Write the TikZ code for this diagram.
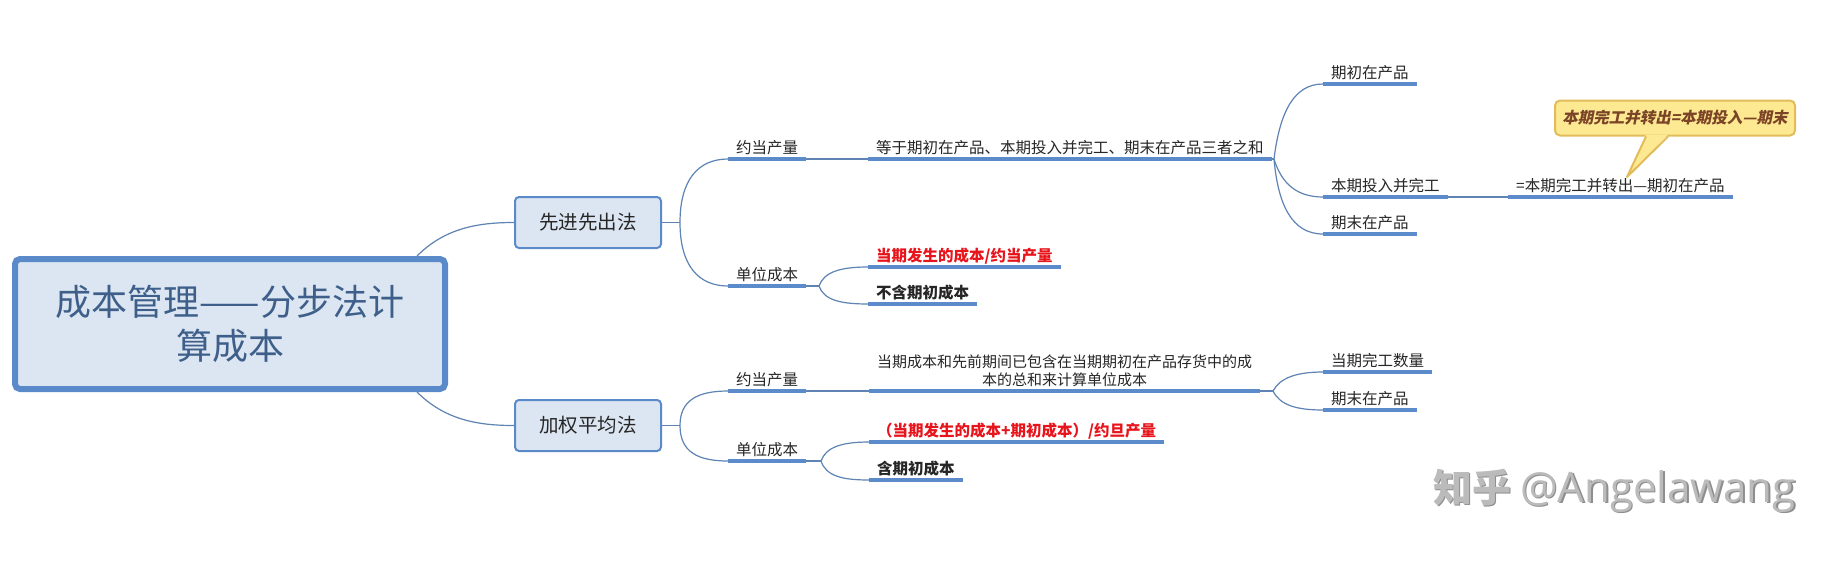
\documentclass[tikz,border=0pt]{standalone}
\usepackage{fontspec}
\setmainfont{Noto Sans CJK SC}
\newfontfamily\calloutfont{Noto Sans CJK SC}[FakeSlant=0.2]
\newfontfamily\wmfont{Open Sans}
\usetikzlibrary{positioning}
\definecolor{rootfill}{HTML}{DCE6F2}
\definecolor{boxborder}{HTML}{5A8AC9}
\definecolor{ulcol}{HTML}{5B8BCB}
\definecolor{conncol}{HTML}{5F83B3}
\definecolor{roottext}{HTML}{3E5F8A}
\definecolor{leaftext}{HTML}{262626}
\definecolor{redtext}{HTML}{E8141B}
\definecolor{callfill}{HTML}{FCE992}
\definecolor{callborder}{HTML}{E2BC5A}
\definecolor{calltext}{HTML}{7B4426}
\definecolor{wmcol}{HTML}{BBBBBB}
\definecolor{wmshadow}{HTML}{8E8E8E}
\tikzset{
  rootbox/.style={draw=boxborder, line width=6pt, fill=rootfill, rounded corners=5pt,
    minimum width=430pt, minimum height=130pt, align=center, text=roottext,
    font=\fontsize{36}{44}\selectfont, inner sep=0pt},
  midbox/.style={draw=boxborder, line width=2pt, fill=rootfill, rounded corners=4pt,
    minimum width=146pt, minimum height=51pt, text=leaftext,
    font=\fontsize{19.5}{22}\selectfont, inner sep=0pt},
  leaf/.style={anchor=south west, inner xsep=8pt, inner ysep=3pt, text depth=2pt,
    text=leaftext, font=\fontsize{15.5}{18}\selectfont},
  leafred/.style={leaf, text=redtext, font=\fontsize{15.5}{18}\selectfont\bfseries},
  leafbold/.style={leaf, font=\fontsize{15.5}{18}\selectfont\bfseries},
  ul/.style={draw=ulcol, line width=4pt},
  conn/.style={draw=conncol, line width=1.2pt},
}
\begin{document}
\begin{tikzpicture}[x=1pt, y=-1pt]
\useasboundingbox (0,0) rectangle (1833,571);
\fill[white] (0,0) rectangle (1833,571);

% root and main branches
\node[rootbox] (root) at (230,324) {成本管理——分步法计\\算成本};
\node[midbox] (fifo) at (588,222.5) {先进先出法};
\node[midbox] (wavg) at (588,425.5) {加权平均法};

\coordinate (rtop) at (417,256);
\coordinate (rbot) at (417,392);
\draw[conn] (rtop) .. controls (445,228) and (478,222.5) .. (fifo.west);
\draw[conn] (rbot) .. controls (445,420) and (478,425.5) .. (wavg.west);

% FIFO leaves
\node[leaf] (fa) at (728,159) {约当产量};
\node[leaf] (fa2) at (868,159) {等于期初在产品、本期投入并完工、期末在产品三者之和};
\node[leaf] (fa3) at (1323,84) {期初在产品};
\node[leaf] (fa4) at (1323,197) {本期投入并完工};
\node[leaf] (fa5) at (1508,197) {=本期完工并转出—期初在产品};
\node[leaf] (fa6) at (1323,234) {期末在产品};
\node[leaf] (fb) at (728,286) {单位成本};
\node[leafred] (fb1) at (868,267) {当期发生的成本/约当产量};
\node[leafbold] (fb2) at (868,304) {不含期初成本};

% weighted average leaves
\node[leaf] (wa) at (728,391) {约当产量};
\node[leaf, align=center, font=\fontsize{15}{18.5}\selectfont] (wa2) at (869,391) {当期成本和先前期间已包含在当期期初在产品存货中的成\\本的总和来计算单位成本};
\node[leaf] (wa3) at (1323,372) {当期完工数量};
\node[leaf] (wa4) at (1323,410) {期末在产品};
\node[leaf] (wb) at (728,461) {单位成本};
\node[leafred] (wb1) at (869,442) {（当期发生的成本+期初成本）/约旦产量};
\node[leafbold] (wb2) at (869,480) {含期初成本};

% underlines
\foreach \n in {fa,fa2,fa3,fa4,fa5,fa6,fb,fb1,fb2,wa,wa2,wa3,wa4,wb,wb1,wb2}
  \draw[ul] (\n.south west) -- (\n.south east);

% junction coordinates
\coordinate (jf) at (680,222.5);
\coordinate (jw) at (680,425.5);
\coordinate (jfa) at (1274,159);
\coordinate (jfb) at (819,286);
\coordinate (jwa) at (1273,391);
\coordinate (jwb) at (821,461);

% FIFO connectors
\draw[conn] (fifo.east) -- (jf);
\draw[conn] (jf) .. controls (680,180) and (698,159) .. (fa.south west);
\draw[conn] (jf) .. controls (680,265) and (698,286) .. (fb.south west);
\draw[conn] (fa.south east) -- (fa2.south west);
\draw[conn] (fa2.south east) -- (jfa);
\draw[conn] (jfa) .. controls (1280,110) and (1295,84) .. (fa3.south west);
\draw[conn] (jfa) .. controls (1282,185) and (1298,197) .. (fa4.south west);
\draw[conn] (jfa) .. controls (1278,205) and (1292,234) .. (fa6.south west);
\draw[conn] (fa4.south east) -- (fa5.south west);
\draw[conn] (fb.south east) -- (jfb);
\draw[conn] (jfb) .. controls (824,272) and (840,267) .. (fb1.south west);
\draw[conn] (jfb) .. controls (824,300) and (840,304) .. (fb2.south west);

% weighted average connectors
\draw[conn] (wavg.east) -- (jw);
\draw[conn] (jw) .. controls (680,400) and (698,391) .. (wa.south west);
\draw[conn] (jw) .. controls (680,452) and (698,461) .. (wb.south west);
\draw[conn] (wa2.south east) -- (jwa);
\draw[conn] (jwa) .. controls (1280,378) and (1296,372) .. (wa3.south west);
\draw[conn] (jwa) .. controls (1280,405) and (1296,410) .. (wa4.south west);
\draw[conn] (wa.south east) -- (wa2.south west);
\draw[conn] (wb.south east) -- (jwb);
\draw[conn] (jwb) .. controls (826,447) and (842,442) .. (wb1.south west);
\draw[conn] (jwb) .. controls (826,476) and (842,480) .. (wb2.south west);

% callout
\node[draw=callborder, line width=2pt, fill=callfill, rounded corners=5pt,
  minimum width=240pt, minimum height=35pt, inner sep=0pt, text=calltext,
  font=\calloutfont\fontsize{15.5}{18}\selectfont\bfseries] (call) at (1675,118) {本期完工并转出=本期投入—期末};
\coordinate (ctip) at (1627,177);
\fill[callfill] (1646,134.5) -- (1668,134.5) -- (ctip) -- cycle;
\draw[callborder, line width=2pt, line join=round] (1646,136.5) -- (ctip) -- (1668,136.5);

% watermark
\node[anchor=base west, inner sep=0pt, text=wmshadow, font=\fontsize{39}{39}\selectfont\bfseries] at (1434.5,503.5) {知乎};
\node[anchor=base west, inner sep=0pt, text=wmcol, font=\fontsize{39}{39}\selectfont\bfseries] (wm1) at (1433,502) {知乎};
\node[anchor=base west, inner sep=0pt, text=wmshadow, font=\wmfont\fontsize{42}{42}\selectfont] at (1521.5,503.5) {@Angelawang};
\node[anchor=base west, inner sep=0pt, text=wmcol, font=\wmfont\fontsize{42}{42}\selectfont] (wm2) at (1520,502) {@Angelawang};
\end{tikzpicture}
\end{document}
